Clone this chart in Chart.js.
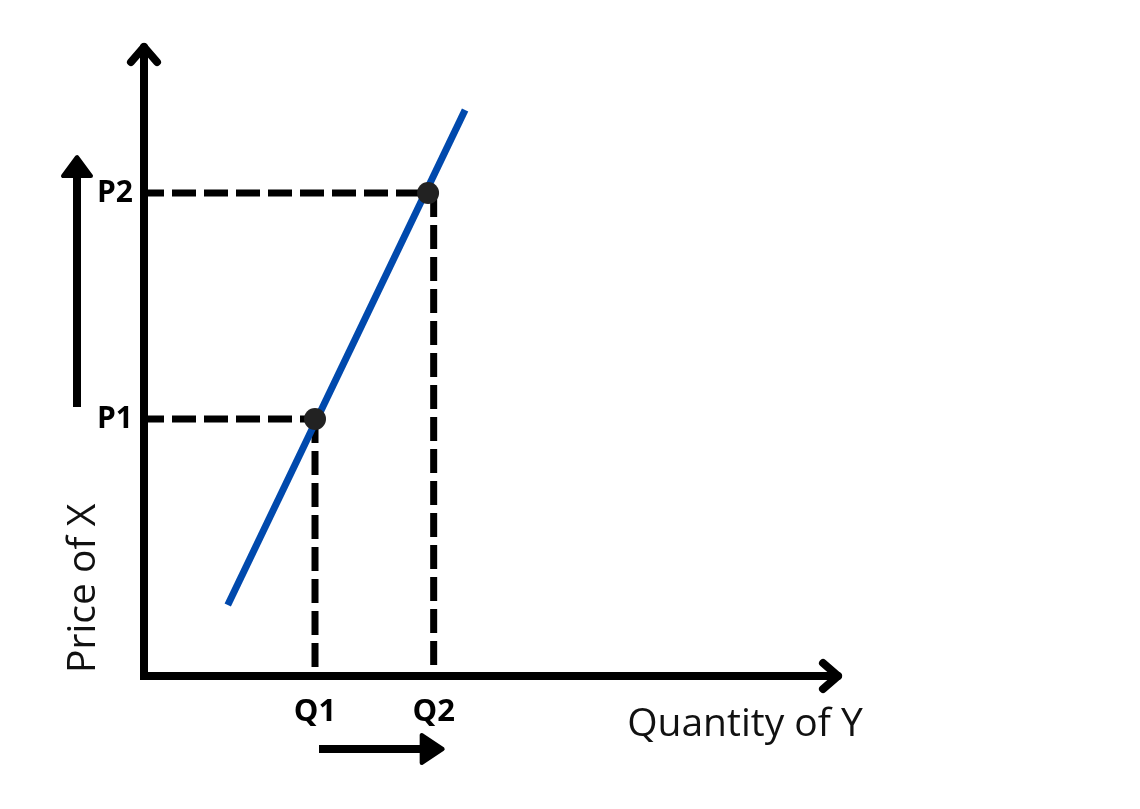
<!DOCTYPE html>
<html>
<head>
<meta charset="utf-8">
<script src="https://cdn.jsdelivr.net/npm/chart.js@4.4.1/dist/chart.umd.min.js"></script>
<style>
html,body{margin:0;padding:0;background:#fff;}
#wrap{width:1140px;height:809px;position:relative;}
</style>
</head>
<body>
<div id="wrap"><canvas id="c"></canvas></div>
<script>
// ---- data ----
const supplyLine = [{x:12.0, y:11.2}, {x:46.0, y:89.4}];
const equilibriumPoints = [{x:24.5, y:40.6}, {x:40.7, y:76.3}];
const quantityTicks = [24.5, 41.5];
const quantityLabels = ['Q1', 'Q2'];
const priceTicks = [40.6, 76.3];
const priceLabels = ['P1', 'P2'];
const xTitle = 'Quantity of Y';
const yTitle = 'Price of X';

const BLUE = '#0049ad';
const INK = '#000000';

const guideSets = [];
equilibriumPoints.forEach((p, i) => {
  guideSets.push({
    type:'line', data:[{x:0, y:priceTicks[i]}, {x:p.x, y:priceTicks[i]}],
    borderColor:INK, borderWidth:7, borderDash:[24,8], borderDashOffset:4,
    borderCapStyle:'butt', pointRadius:0, order:3, clip:false
  });
  guideSets.push({
    type:'line', data:[{x:quantityTicks[i], y:p.y}, {x:quantityTicks[i], y:0}],
    borderColor:INK, borderWidth:7, borderDash:[24,8],
    borderCapStyle:'butt', pointRadius:0, order:3, clip:false
  });
});

const decor = {
  id:'decor',
  afterDatasetsDraw(chart){
    const ctx = chart.ctx, a = chart.chartArea;
    const xs = chart.scales.x, ys = chart.scales.y;
    ctx.save();
    ctx.strokeStyle = INK; ctx.fillStyle = INK;
    ctx.lineWidth = 8; ctx.lineCap = 'round'; ctx.lineJoin = 'round';
    // axes
    ctx.beginPath();
    ctx.moveTo(a.left, a.top + 4);
    ctx.lineTo(a.left, a.bottom);
    ctx.lineTo(a.right - 4, a.bottom);
    ctx.stroke();
    ctx.lineCap = 'butt';
    ctx.beginPath();
    ctx.moveTo(a.left - 4, a.bottom); ctx.lineTo(a.left + 4, a.bottom);
    ctx.stroke();
    ctx.lineCap = 'round';
    // y arrow chevron
    ctx.beginPath();
    ctx.moveTo(a.left - 13, a.top + 19);
    ctx.lineTo(a.left, a.top + 4);
    ctx.lineTo(a.left + 13, a.top + 19);
    ctx.stroke();
    // x arrow chevron
    ctx.beginPath();
    ctx.moveTo(a.right - 19, a.bottom - 13);
    ctx.lineTo(a.right - 4, a.bottom);
    ctx.lineTo(a.right - 19, a.bottom + 13);
    ctx.stroke();

    // up arrow (price rises)
    const ux = 77;
    const yBot = ys.getPixelForValue(priceTicks[0]) - 12;
    const yTip = ys.getPixelForValue(priceTicks[1]) - 38;
    ctx.lineCap = 'butt';
    ctx.beginPath();
    ctx.moveTo(ux, yBot); ctx.lineTo(ux, yTip + 20);
    ctx.stroke();
    ctx.lineWidth = 4;
    ctx.beginPath();
    ctx.moveTo(ux, yTip + 2);
    ctx.lineTo(ux - 14, yTip + 21);
    ctx.lineTo(ux + 14, yTip + 21);
    ctx.closePath();
    ctx.fill(); ctx.stroke();

    // right arrow (quantity rises)
    const ry = 749;
    const xStart = xs.getPixelForValue(quantityTicks[0]) + 4;
    const xTip = xs.getPixelForValue(quantityTicks[1]) + 11;
    ctx.lineWidth = 8;
    ctx.beginPath();
    ctx.moveTo(xStart, ry); ctx.lineTo(xTip - 20, ry);
    ctx.stroke();
    ctx.lineWidth = 4;
    ctx.beginPath();
    ctx.moveTo(xTip - 2, ry);
    ctx.lineTo(xTip - 23, ry - 14);
    ctx.lineTo(xTip - 23, ry + 14);
    ctx.closePath();
    ctx.fill(); ctx.stroke();

    // axis titles
    ctx.fillStyle = '#111';
    ctx.font = '39px "Open Sans"';
    ctx.textBaseline = 'alphabetic';
    ctx.textAlign = 'center';
    ctx.fillText(xTitle, 745, 736);
    ctx.save();
    ctx.translate(95, 673);
    ctx.rotate(-Math.PI/2);
    ctx.textAlign = 'left';
    ctx.fillText(yTitle, 0, 0);
    ctx.restore();
    ctx.restore();
  }
};

new Chart(document.getElementById('c'), {
  type:'scatter',
  data:{
    datasets:[
      {type:'scatter', data:equilibriumPoints, pointRadius:11, pointHoverRadius:11,
       backgroundColor:'#222222', borderColor:'#222222', borderWidth:0, order:1, clip:false},
      {type:'line', data:supplyLine, borderColor:BLUE, borderWidth:7, pointRadius:0,
       borderCapStyle:'butt', order:2, clip:false},
      ...guideSets
    ]
  },
  options:{
    responsive:true, maintainAspectRatio:false, animation:false,
    events:[],
    layout:{padding:{top:43, right:298, bottom:0, left:0}},
    plugins:{legend:{display:false}, tooltip:{enabled:false}},
    scales:{
      x:{
        type:'linear', min:0, max:100,
        grid:{display:false, drawTicks:false}, border:{display:false},
        afterBuildTicks(s){ s.ticks = quantityTicks.map(v => ({value:v})); },
        afterFit(s){ s.height = 133; },
        ticks:{
          autoSkip:false, maxRotation:0, padding:18, color:INK,
          font:{family:'"Open Sans"', size:31, weight:'bold'},
          callback:(v, i) => quantityLabels[i]
        }
      },
      y:{
        type:'linear', min:0, max:100,
        grid:{display:false, drawTicks:false}, border:{display:false},
        afterBuildTicks(s){ s.ticks = priceTicks.map(v => ({value:v})); },
        afterFit(s){ s.width = 144; },
        ticks:{
          autoSkip:false, padding:11, color:INK,
          font:{family:'"Open Sans"', size:30, weight:'bold'},
          callback:(v, i) => priceLabels[i]
        }
      }
    }
  },
  plugins:[decor]
});
</script>
</body>
</html>
